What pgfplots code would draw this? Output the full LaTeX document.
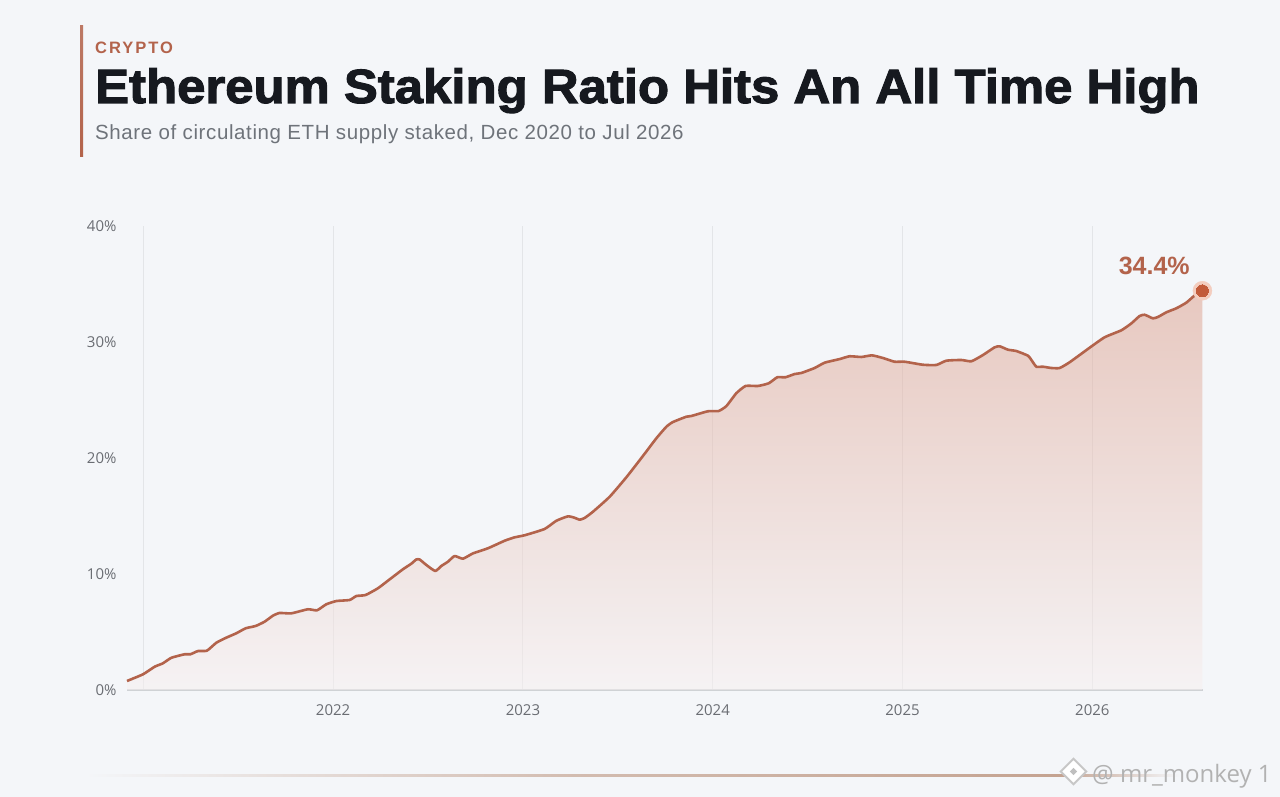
\documentclass[border=0pt]{standalone}
\usepackage{fontspec}
\usepackage{pgfplots}
\usepackage{pgfplotstable}
\pgfplotsset{compat=1.18}
\setmainfont[LetterSpace=3]{Liberation Sans}
\newfontfamily\titlefont[FakeBold=2.2,FakeStretch=1.06]{Liberation Sans Bold}
\newfontfamily\boldfont{Liberation Sans Bold}
\newfontfamily\eyebrowfont[LetterSpace=12]{Liberation Sans Bold}
\newfontfamily\tickfont{Open Sans}

\definecolor{pagebg}{HTML}{F4F6F9}
\definecolor{rust}{HTML}{B3634B}
\definecolor{dotrust}{HTML}{C25B3A}
\definecolor{halo}{HTML}{F3CDBF}
\definecolor{titleink}{HTML}{16191F}
\definecolor{subink}{HTML}{6E737A}
\definecolor{tickink}{HTML}{6A6D73}
\definecolor{gridc}{HTML}{E3E5E8}
\definecolor{basec}{HTML}{CDD0D4}
\definecolor{rulec}{HTML}{C4A391}

% share of circulating ETH staked, x = decimal year, y = percent
\pgfplotstableread{
x y
2020.914 0.78
2020.998 1.35
2021.060 2.01
2021.103 2.30
2021.148 2.78
2021.218 3.08
2021.248 3.08
2021.288 3.36
2021.335 3.39
2021.385 4.08
2021.437 4.51
2021.490 4.89
2021.539 5.32
2021.592 5.52
2021.639 5.89
2021.683 6.41
2021.718 6.64
2021.780 6.61
2021.867 6.96
2021.915 6.87
2021.964 7.39
2022.017 7.67
2022.087 7.76
2022.122 8.10
2022.171 8.19
2022.236 8.77
2022.298 9.54
2022.368 10.41
2022.412 10.89
2022.438 11.25
2022.456 11.25
2022.491 10.78
2022.538 10.26
2022.570 10.69
2022.605 11.06
2022.640 11.55
2022.684 11.32
2022.737 11.78
2022.816 12.22
2022.904 12.87
2022.956 13.16
2023.009 13.34
2023.114 13.88
2023.176 14.59
2023.237 14.97
2023.272 14.85
2023.299 14.68
2023.325 14.83
2023.369 15.37
2023.457 16.66
2023.545 18.34
2023.632 20.17
2023.703 21.70
2023.756 22.70
2023.790 23.10
2023.861 23.56
2023.887 23.62
2023.975 24.03
2024.031 24.05
2024.072 24.48
2024.124 25.58
2024.173 26.21
2024.238 26.21
2024.295 26.44
2024.340 26.96
2024.383 26.96
2024.432 27.24
2024.467 27.33
2024.537 27.76
2024.590 28.22
2024.669 28.53
2024.721 28.77
2024.783 28.71
2024.839 28.85
2024.897 28.62
2024.958 28.30
2025.011 28.30
2025.107 28.04
2025.178 28.02
2025.231 28.39
2025.310 28.45
2025.363 28.34
2025.424 28.88
2025.485 29.54
2025.512 29.63
2025.555 29.34
2025.600 29.22
2025.661 28.82
2025.679 28.45
2025.705 27.87
2025.740 27.87
2025.784 27.76
2025.828 27.76
2025.880 28.25
2025.986 29.51
2026.065 30.41
2026.153 31.01
2026.206 31.61
2026.249 32.24
2026.276 32.35
2026.319 32.04
2026.346 32.16
2026.390 32.56
2026.443 32.91
2026.495 33.39
2026.548 34.14
2026.580 34.42
}\stakedata

\begin{document}
\begin{tikzpicture}
% page background, 1pt = 1 reference pixel
\begin{scope}[x=1pt,y=1pt]
\fill[pagebg] (0,0) rectangle (1280,-797);

% header
\fill[top color=rust!85!pagebg,bottom color=rust] (80,-26) rectangle (83,-157);
\node[anchor=base west,inner sep=0,text=rust] at (95,-53.5) {\eyebrowfont\fontsize{16.5}{16.5}\selectfont CRYPTO};
\node[anchor=base west,inner sep=0,text=titleink] at (95,-103) {\titlefont\fontsize{48}{48}\selectfont Ethereum Staking Ratio Hits An All Time High};
\node[anchor=base west,inner sep=0,text=subink] at (95,-139.5) {\fontsize{20.5}{20.5}\selectfont Share of circulating ETH supply staked, Dec 2020 to Jul 2026};
\end{scope}

\begin{axis}[
	at={(127pt,-690pt)},
	anchor=south west,
	scale only axis,
	width=1076pt,
	height=464pt,
	xmin=2020.914, xmax=2026.583,
	ymin=0, ymax=40,
	clip=false,
	axis x line=bottom,
	axis y line=left,
	x axis line style={-,draw=basec,line width=1.2pt},
	y axis line style={draw=none},
	xtick={2021,2022,2023,2024,2025,2026},
	xticklabels={,2022,2023,2024,2025,2026},
	ytick={0,10,20,30,40},
	yticklabels={0\%,10\%,20\%,30\%,40\%},
	major tick length=0pt,
	xmajorgrids=true,
	grid style={draw=gridc,line width=1pt},
	tick label style={text=tickink,font=\tickfont\fontsize{15}{15}\selectfont},
	xticklabel style={yshift=-11pt},
	yticklabel style={xshift=-7pt},
]
\addplot[draw=none,fill opacity=0.5,top color={rgb,255:red,220;green,156;blue,136},bottom color={rgb,255:red,247;green,240;blue,240}] table[x=x,y=y] {\stakedata} \closedcycle;
\addplot[rust,line width=2.6pt,line join=round,smooth,tension=0.3] table[x=x,y=y] {\stakedata};
\addplot[only marks,mark=*,mark size=9.5pt,mark options={draw=halo,fill=halo}] coordinates {(2026.580,34.42)};
\addplot[only marks,mark=*,mark size=6pt,mark options={draw=dotrust,line width=0pt,fill=dotrust}] coordinates {(2026.580,34.42)};
\node[text=rust,font=\boldfont\fontsize{25}{25}\selectfont] at (axis cs:2026.326,36.55) {34.4\%};
\end{axis}

\begin{scope}[x=1pt,y=1pt]
% bottom rule
\fill[left color=pagebg,right color=rulec,middle color=rulec!70!pagebg] (85,-774.6) rectangle (1060,-776.6);
\fill[left color=rulec,right color=pagebg] (1060,-774.6) rectangle (1180,-776.6);

% watermark
\draw[black!22,fill=white,line width=2pt,rotate around={45:(1073.5,-771.5)}] (1064.5,-780.5) rectangle (1082.5,-762.5);
\fill[black!25,rotate around={45:(1073.5,-771.5)}] (1071,-774) rectangle (1076,-769);
\node[anchor=base west,inner sep=0,text=black!30] at (1092,-782) {\tickfont\fontsize{24}{24}\selectfont @ mr\_monkey 1};
\end{scope}
\end{tikzpicture}
\end{document}
